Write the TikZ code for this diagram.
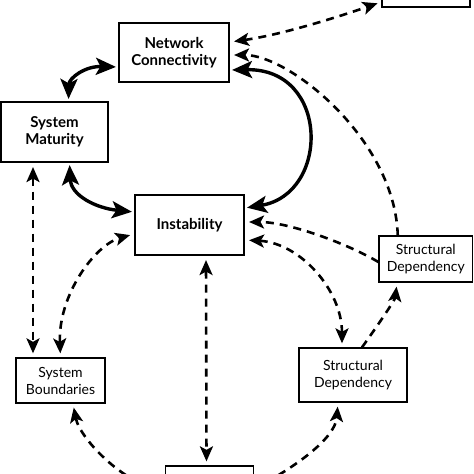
\documentclass[tikz,border=0pt]{standalone}
\usepackage{fontspec}
\setmainfont{Lato}
\usetikzlibrary{arrows.meta}
\begin{document}
\begin{tikzpicture}[x=1pt,y=-1pt,
  bigbox/.style={draw, line width=2.1pt, inner sep=0pt, align=center,
    font=\fontsize{15}{17}\selectfont\bfseries},
  smallbox/.style={draw, line width=1.3pt, inner sep=0pt, align=center,
    font=\fontsize{14}{17}\selectfont},
  solidarr/.style={line width=3.4pt,
    arrows={Stealth[length=20pt,width=17pt,inset=4.5pt]-Stealth[length=20pt,width=17pt,inset=4.5pt]},
    shorten <=2pt, shorten >=2pt},
  dashbase/.style={line width=2.6pt, dash pattern=on 8pt off 6pt},
  dashone/.style={dashbase, arrows={-Stealth[length=15pt,width=13pt,inset=3.5pt]}, shorten >=4pt},
  dashtwo/.style={dashbase, arrows={Stealth[length=15pt,width=13pt,inset=3.5pt]-Stealth[length=15pt,width=13pt,inset=3.5pt]},
    shorten <=4pt, shorten >=4pt}
]
\useasboundingbox (0,0) rectangle (474,474);
\clip (0,0) rectangle (474,474);

\node[bigbox, minimum width=110pt, minimum height=59pt] (nc) at (174,52.5) {Network\\Connectivity};
\node[bigbox, minimum width=107pt, minimum height=60pt] (sm) at (54.5,132) {System\\Maturity};
\node[bigbox, minimum width=109pt, minimum height=60pt] (inst) at (189.5,225) {Instability};
\node[smallbox, minimum width=93.5pt, minimum height=46pt] (sdr) at (425.75,259) {Structural\\Dependency};
\node[smallbox, minimum width=89pt, minimum height=45pt] (sb) at (60.5,380.5) {System\\Boundaries};
\node[smallbox, minimum width=108pt, minimum height=54pt] (sdm) at (353,375) {Structural\\Dependency};
\node[smallbox, minimum width=88pt, minimum height=46pt] (bb) at (209.5,489) {};
\node[smallbox, minimum width=88pt, minimum height=47pt] (tr) at (426,-16.5) {};

% thick solid connectors
\draw[solidarr] ([yshift=-14.5pt]nc.west) .. controls (85,66) and (69,78) .. ([xshift=14pt]sm.north);
\draw[solidarr] ([xshift=15pt]sm.south) .. controls (71,195) and (95,208) .. ([yshift=13pt]inst.west);
\draw[solidarr] ([yshift=-17.5pt]nc.east) .. controls (330,68) and (330,194) .. ([yshift=17pt]inst.east);

% dashed connectors
\draw[dashone] ([xshift=-28pt]sdr.north) .. controls (395,140) and (290,55) .. ([yshift=-2.5pt]nc.east);
\draw[dashtwo] ([yshift=10.5pt]nc.east) .. controls (280,35) and (335,18) .. ([yshift=-18.5pt]tr.west);
\draw[dashone] ([yshift=-3pt]sdr.west) .. controls (350,245) and (290,222) .. ([yshift=3pt]inst.east);
\draw[dashtwo] ([yshift=-15pt]inst.east) .. controls (300,243) and (342,290) .. ([xshift=-11pt]sdm.north);
\draw[dashone] ([xshift=9pt]sdm.north) .. controls (378,325) and (395,300) .. ([xshift=-28.75pt]sdr.south);
\draw[dashone] (bb.east) .. controls (290,470) and (335,440) .. ([xshift=-15pt]sdm.south);
\draw[dashtwo] ([xshift=16.5pt]inst.south) -- ([xshift=-3pt]bb.north);
\draw[dashtwo] ([xshift=-21.5pt]sm.south) -- ([xshift=-27.5pt]sb.north);
\draw[dashtwo] (sb.north) .. controls (58,295) and (95,245) .. ([yshift=-9pt]inst.west);
\draw[dashone] (bb.west) .. controls (130,490) and (80,440) .. ([xshift=12.5pt]sb.south);
\end{tikzpicture}
\end{document}
